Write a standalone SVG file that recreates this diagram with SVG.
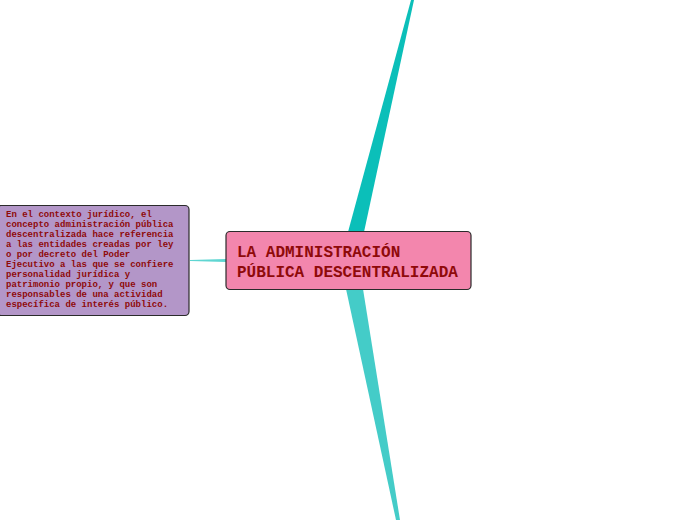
<svg xmlns="http://www.w3.org/2000/svg" width="697" height="520" viewBox="0 0 697 520">
<style>
.node rect{stroke:#2b2b2b;stroke-width:1.2}
.t{font-family:"Liberation Mono","Courier New",monospace;font-weight:bold;fill:#8f0a0a}
</style>
<rect width="697" height="520" fill="#ffffff"/>
<g id="connectors">
<path d="M348,232 L364,232 L414,0 L411,0 Z" fill="#0bbfb9"/>
<path d="M346,289 L363,289 L400,520 L396,520 Z" fill="#44ccc8"/>
<path d="M190,260 L226,259 L226,262 L190,261 Z" fill="#5fd6d2"/>
</g>
<g id="node-center" class="node">
<rect x="226" y="231.5" width="245" height="58" rx="4" fill="#f386ad"/>
<text class="t" font-size="16" x="237" y="257">LA ADMINISTRACIÓN</text>
<text class="t" font-size="16" x="237" y="277">PÚBLICA DESCENTRALIZADA</text>
</g>
<g id="node-left" class="node">
<rect x="-3" y="205.5" width="192" height="110" rx="4" fill="#b396c8"/>
<text class="t" font-size="9">
<tspan x="6" y="217">En el contexto jurídico, el</tspan>
<tspan x="6" y="227">concepto administración pública</tspan>
<tspan x="6" y="237">descentralizada hace referencia</tspan>
<tspan x="6" y="247">a las entidades creadas por ley</tspan>
<tspan x="6" y="257">o por decreto del Poder</tspan>
<tspan x="6" y="267">Ejecutivo a las que se confiere</tspan>
<tspan x="6" y="277">personalidad jurídica y</tspan>
<tspan x="6" y="287">patrimonio propio, y que son</tspan>
<tspan x="6" y="297">responsables de una actividad</tspan>
<tspan x="6" y="307">específica de interés público.</tspan>
</text>
</g>
</svg>
